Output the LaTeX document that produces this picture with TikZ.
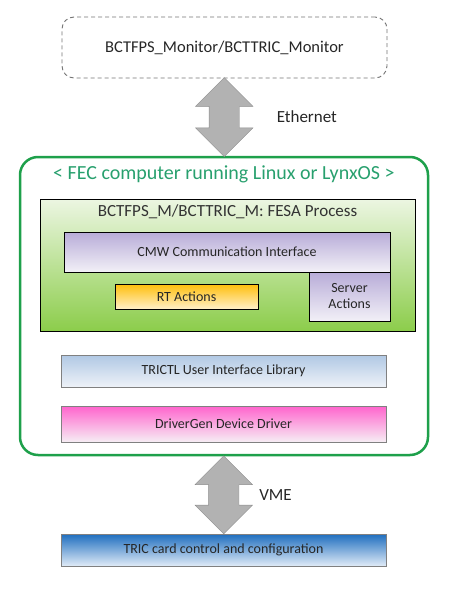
\documentclass[tikz,border=0pt]{standalone}
\usepackage{fontspec}
\setmainfont{Carlito}
\usetikzlibrary{shapes.arrows,calc,positioning}

\definecolor{fecgreen}{RGB}{30,160,75}
\definecolor{fectext}{RGB}{40,160,110}
\definecolor{fesatop}{RGB}{236,246,226}
\definecolor{fesabot}{RGB}{140,205,75}
\definecolor{cmwtop}{RGB}{184,172,216}
\definecolor{cmwbot}{RGB}{242,240,247}
\definecolor{rttop}{RGB}{255,190,10}
\definecolor{rtbot}{RGB}{255,240,200}
\definecolor{libtop}{RGB}{176,200,228}
\definecolor{libbot}{RGB}{238,242,248}
\definecolor{drvtop}{RGB}{255,100,205}
\definecolor{drvbot}{RGB}{246,238,244}
\definecolor{trictop}{RGB}{31,110,191}
\definecolor{tricbot}{RGB}{224,235,247}

\begin{document}
\begin{tikzpicture}
	[x=1pt, y=1pt,
	 box/.style={rectangle, draw=black, line width=1pt, inner sep=0pt, text=black!85, font=\fontsize{14}{16}\selectfont},
	 lowbox/.style={box, draw=black!50, minimum width=325pt},
	 link/.style={double arrow, draw=black!45, fill=black!30, rotate=90, inner xsep=0pt, inner ysep=15pt,
	              double arrow head extend=13.5pt, minimum width=57pt},
	 linklabel/.style={font=\fontsize{17}{20}\selectfont, text=black!85, anchor=west}]
	\useasboundingbox (0,0) rectangle (474,-594);
	\node[draw=black!55, line width=0.9pt, dash pattern=on 4pt off 3pt, rounded corners=12pt, minimum width=325pt, minimum height=61pt,
	      text=black!85, font=\fontsize{16.5}{20}\selectfont] (mon) at (224.5,-47.5) {BCTFPS\_Monitor/BCTTRIC\_Monitor};
	\node[draw=fecgreen, line width=2.5pt, rounded corners=18pt, minimum width=408pt, minimum height=298pt] (fec) at (224,-306) {};
	\node[text=fectext, font=\fontsize{20}{24}\selectfont] (fectitle) at (224,-174) {< FEC computer running Linux or LynxOS >};
	\node[box, top color=fesatop, bottom color=fesabot, minimum width=375pt, minimum height=132pt] (fesa) at (227.5,-265) {};
	\node[text=black!80, font=\fontsize{17}{20}\selectfont] (fesatitle) at (227.5,-212) {BCTFPS\_M/BCTTRIC\_M: FESA Process};
	\node[box, top color=cmwtop, bottom color=cmwbot, minimum width=81pt, minimum height=49pt, align=center] (server) at (349.5,-296.5) {Server\\Actions};
	\node[box, top color=cmwtop, bottom color=cmwbot, minimum width=326pt, minimum height=40pt] (cmw) at (227,-252) {CMW Communication Interface};
	\node[box, top color=rttop, bottom color=rtbot, minimum width=143pt, minimum height=25pt] (rt) at (186.5,-296.5) {RT Actions};
	\node[lowbox, top color=libtop, bottom color=libbot, minimum height=32pt] (trictl) at (223.5,-371) {TRICTL User Interface Library};
	\node[lowbox, top color=drvtop, bottom color=drvbot, minimum height=36pt] (driver) at (223.5,-424) {DriverGen Device Driver};
	\node[lowbox, top color=trictop, bottom color=tricbot, minimum height=32pt] (tric) at (223.5,-550) {TRIC card control and configuration};
	\node[link, minimum height=79pt] (eth) at ($(mon.south)!0.5!(fec.north)$) {};
	\node[link, minimum height=78pt] (vme) at ($(fec.south)!0.5!(tric.north)$) {};
	\node[linklabel, right=49pt of eth.center] (ethlabel) {Ethernet};
	\node[linklabel, right=32pt of vme.center] (vmelabel) {VME};
\end{tikzpicture}
\end{document}
